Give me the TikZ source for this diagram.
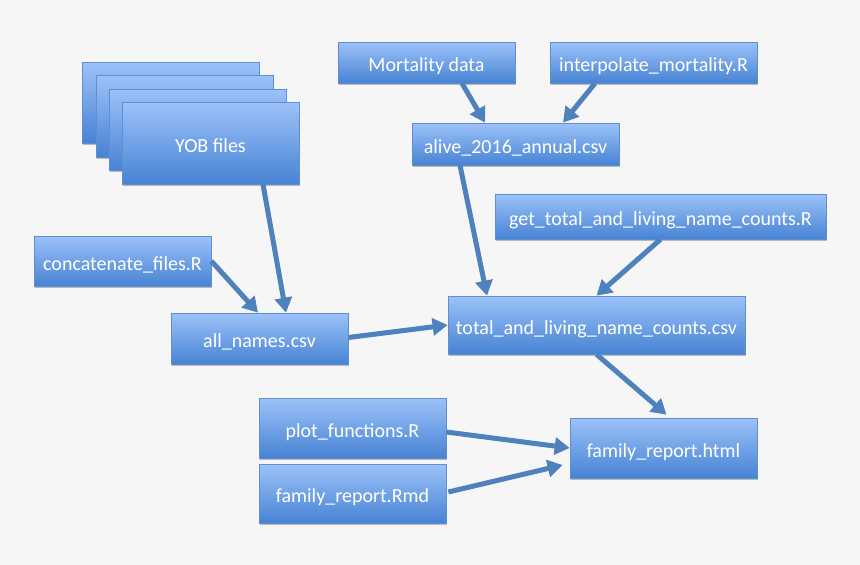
\documentclass[tikz,border=0pt]{standalone}
\usepackage{fontspec}
\setmainfont{Carlito}
\usetikzlibrary{arrows.meta,shadows,calc}
\definecolor{bg}{HTML}{F6F6F6}
\definecolor{boxtop}{HTML}{9CC2F9}
\definecolor{boxbot}{HTML}{4783D3}
\definecolor{boxline}{HTML}{5F8FD2}
\definecolor{arrowc}{HTML}{4F81BD}
\tikzset{
  box/.style={draw=boxline, line width=0.7pt, top color=boxtop, bottom color=boxbot,
    text=white, font=\fontsize{20}{24}\selectfont, inner sep=0pt,
    text height=20pt, text depth=2pt,
    drop shadow={shadow xshift=1pt, shadow yshift=-1.5pt, opacity=0.25, fill=black}},
  flow/.style={draw=arrowc, line width=5pt, -{Triangle[length=15pt,width=17pt]}}
}
\begin{document}
\begin{tikzpicture}[x=1pt,y=-1pt]
\fill[bg] (0,0) rectangle (860,565);
\useasboundingbox (0,0) rectangle (860,565);
% YOB stack
\node[box, minimum width=177pt, minimum height=81pt] (yob1) at (170.5,102.5) {};
\node[box, minimum width=177pt, minimum height=82pt] (yob2) at (184.5,116) {};
\node[box, minimum width=177pt, minimum height=81pt] (yob3) at (197.5,129.5) {};
\node[box, minimum width=177pt, minimum height=82pt] (yob) at (210.5,143) {YOB files};
% top
\node[box, minimum width=177pt, minimum height=41pt] (mort) at (426.5,62.5) {Mortality data};
\node[box, minimum width=207pt, minimum height=41pt] (interp) at (653.5,62.5) {interpolate\_mortality.R};
\node[box, minimum width=207pt, minimum height=42pt] (alive) at (515.5,144) {alive\_2016\_annual.csv};
% middle
\node[box, minimum width=177pt, minimum height=50pt] (concat) at (122.5,261) {concatenate\_files.R};
\node[box, minimum width=177pt, minimum height=51pt] (allnames) at (259.5,338.5) {all\_names.csv};
\node[box, minimum width=331pt, minimum height=45pt] (get) at (660.5,216.5) {get\_total\_and\_living\_name\_counts.R};
\node[box, minimum width=297pt, minimum height=58pt] (total) at (596.5,325) {total\_and\_living\_name\_counts.csv};
% bottom
\node[box, minimum width=187pt, minimum height=60pt] (plot) at (352.5,428) {plot\_functions.R};
\node[box, minimum width=187pt, minimum height=59pt] (rmd) at (352.5,493.5) {family\_report.Rmd};
\node[box, minimum width=187pt, minimum height=60pt] (html) at (663.5,448) {family\_report.html};
% connectors
\draw[flow] ([xshift=35.5pt]mort.south) -- ([xshift=-30.5pt]alive.north);
\draw[flow] ([xshift=-58.5pt]interp.south) -- ([xshift=47.5pt]alive.north);
\draw[flow] ([xshift=52.5pt]yob.south) -- ([xshift=26.5pt]allnames.north);
\draw[flow] (concat.east) -- ([xshift=-1.5pt]allnames.north);
\draw[flow] ([yshift=1pt]allnames.east) -- (total.west);
\draw[flow] ([xshift=-55.5pt]alive.south) -- ([xshift=-109.5pt]total.north);
\draw[flow] (get.south) -- (total.north);
\draw[flow] (total.south) -- ([xshift=3pt,yshift=3pt]html.north);
\draw[flow] ([yshift=-4pt]plot.east) -- (html.west);
\draw[flow] ([xshift=2pt,yshift=1.5pt]rmd.east) -- ([xshift=-7pt,yshift=-17pt]html.west);
\end{tikzpicture}
\end{document}
